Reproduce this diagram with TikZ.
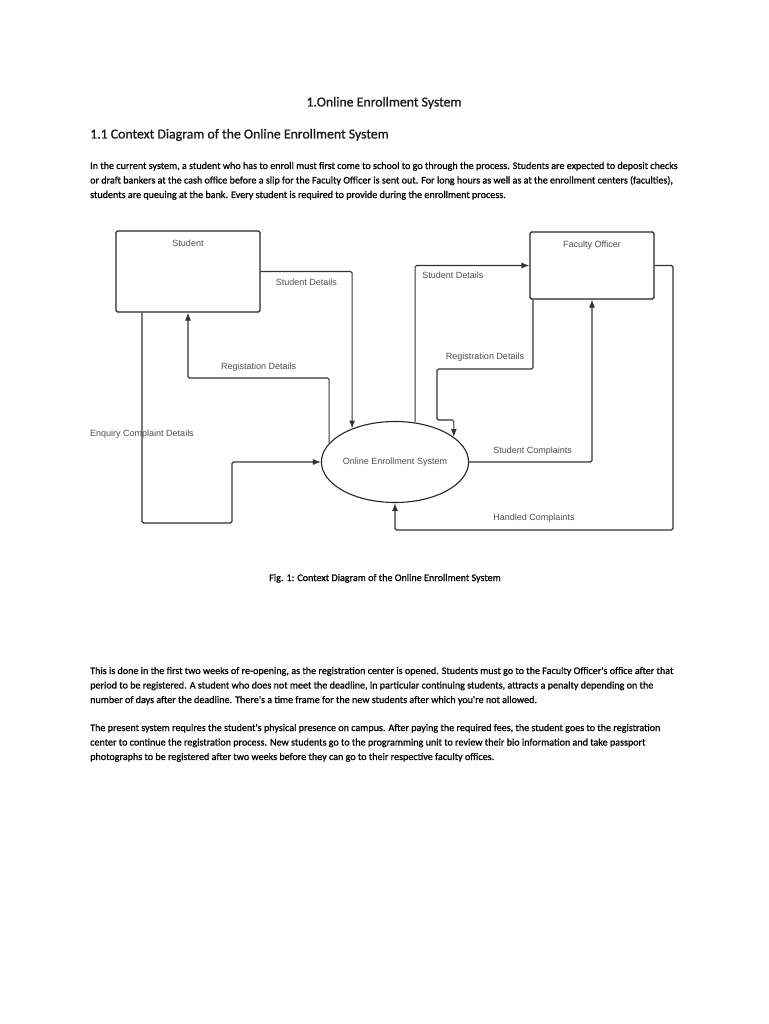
\documentclass[tikz,border=0pt]{standalone}
\usepackage{fontspec}
\setmainfont{Carlito}
\newfontfamily\pagefont{Carlito}[FakeBold=0.8]
\newfontfamily\diagfont{Liberation Sans}
\usetikzlibrary{arrows.meta,shapes.geometric,positioning,calc}

\begin{document}
\begin{tikzpicture}[x=1pt, y=-1pt,
    body/.style={anchor=base west, inner sep=0pt, text=black, font=\pagefont\fontsize{10.1}{11}\selectfont},
    head/.style={inner sep=0pt, text=black!90, font=\pagefont\fontsize{13.8}{16}\selectfont},
    entity/.style={draw=black!85, line width=1.1pt, rounded corners=1.5pt, minimum width=#1},
    proc/.style={ellipse, draw=black!85, line width=1.1pt, inner sep=0pt, minimum width=146pt, minimum height=81pt},
    flow/.style={draw=black!80, line width=1.1pt, rounded corners=1.5pt, -{Latex[length=8pt,width=6pt]}},
    lbl/.style={text=black!70, inner sep=2pt, font=\diagfont\fontsize{9}{10}\selectfont}]

    % Page
    \fill[white] (0,0) rectangle (768,1024);
    \useasboundingbox (0,0) rectangle (768,1024);

    % Headings
    \node[head, anchor=base] (title) at (384,106.5) {1.Online Enrollment System};
    \node[head, anchor=base west] (heading) at (90,138.5) {1.1 Context Diagram of the Online Enrollment System};

    % Intro paragraph
    \foreach \txt [count=\i] in {
        {In the current system, a student who has to enroll must first come to school to go through the process. Students are expected to deposit checks},
        {or draft bankers at the cash office before a slip for the Faculty Officer is sent out. For long hours as well as at the enrollment centers (faculties),},
        {students are queuing at the bank. Every student is required to provide during the enrollment process.}}
        \node[body] (intro-\i) at (90,154.5+14.5*\i) {\txt};

    % Draw the entities and the process
    \node[entity=144pt, minimum height=81pt, label={[lbl, anchor=north, yshift=-7pt]north:Student}] (student) at (188,271.5) {};
    \node[entity=124pt, minimum height=67pt, label={[lbl, anchor=north, yshift=-7pt]north:Faculty Officer}] (faculty) at (592,265.5) {};
    \node[proc, font=\diagfont\fontsize{9}{10}\selectfont, text=black!70] (oes) at (395,462) {Online Enrollment System};

    % Draw flows between student and system
    \draw[flow] (student.east) -| node[lbl, below=5pt, pos=0.25] {Student Details} (oes.142);
    \draw[flow] (oes.164) |- node[lbl, above=4pt, pos=0.75] {Registation Details} (student.south |- 0,378) -- (student.south);
    \draw[flow] (student.south -| 142,0) -- node[lbl, pos=0.58] {Enquiry Complaint Details} (142,523) -| (232,462) -- (oes.west);

    % Draw flows between system and faculty officer
    \draw[flow] (oes.63) |- node[lbl, below=4pt, pos=0.665] {Student Details} (faculty.west);
    \draw[flow] (faculty.south -| 533,0) |- node[lbl, above=5pt, pos=0.75] {Registration Details} (437,369) |- (oes.23 |- 0,420) -- (oes.23);
    \draw[flow] (oes.east) -| node[lbl, above=4pt, pos=0.258] {Student Complaints} (faculty.south);
    \draw[flow] (faculty.east) -| (673,530) -| node[lbl, above=5pt, pos=0.25] {Handled Complaints} (oes.south);

    % Caption
    \node[body, anchor=base] (caption) at (385,581) {Fig. 1: Context Diagram of the Online Enrollment System};

    % Closing paragraphs
    \foreach \txt [count=\i] in {
        {This is done in the first two weeks of re-opening, as the registration center is opened. Students must go to the Faculty Officer's office after that},
        {period to be registered. A student who does not meet the deadline, in particular continuing students, attracts a penalty depending on the},
        {number of days after the deadline. There's a time frame for the new students after which you're not allowed.}}
        \node[body] (open-\i) at (90,659.5+14.5*\i) {\txt};
    \foreach \txt [count=\i] in {
        {The present system requires the student's physical presence on campus. After paying the required fees, the student goes to the registration},
        {center to continue the registration process. New students go to the programming unit to review their bio information and take passport},
        {photographs to be registered after two weeks before they can go to their respective faculty offices.}}
        \node[body] (present-\i) at (90,716.5+14.5*\i) {\txt};
\end{tikzpicture}
\end{document}
